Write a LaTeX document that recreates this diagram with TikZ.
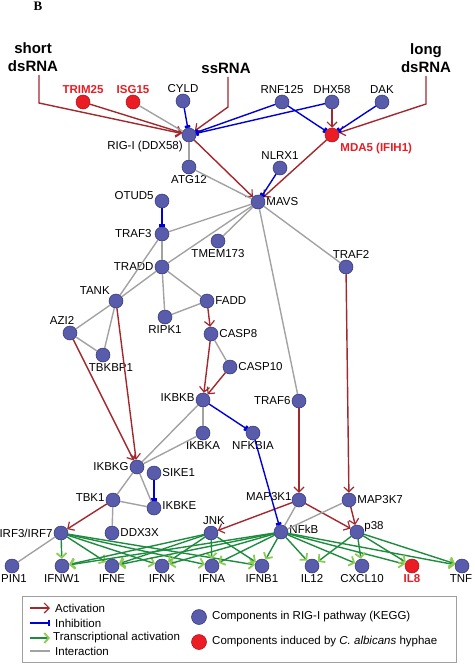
\documentclass[tikz,border=0pt]{standalone}
\usepackage{fontspec}
\setmainfont{Liberation Sans}
\newfontfamily\serifbf{Liberation Serif}
\usetikzlibrary{arrows.meta,positioning}

\definecolor{pblue}{RGB}{88,92,170}
\definecolor{pline}{RGB}{50,53,120}
\definecolor{pred}{RGB}{236,28,36}
\definecolor{rline}{RGB}{160,20,25}
\definecolor{actred}{RGB}{163,40,46}
\definecolor{inhblue}{RGB}{0,0,215}
\definecolor{trgreen}{RGB}{30,140,62}
\definecolor{trhead}{RGB}{140,205,80}
\definecolor{intgray}{RGB}{162,162,162}
\definecolor{txtred}{RGB}{228,30,36}

\tikzset{
	prot/.style={circle,draw=pline,fill=pblue,line width=0.5pt,minimum size=14pt,inner sep=0pt},
	hit/.style={prot,draw=rline,fill=pred},
	every label/.style={font=\fontsize{11.5}{13}\selectfont,inner sep=1pt},
	redlbl/.style={text=txtred,font=\fontsize{11.5}{13}\selectfont\bfseries},
	src/.style={align=center,font=\fontsize{15}{18}\selectfont\bfseries},
	act/.style={draw=actred,line width=1.4pt,-{Straight Barb[length=5pt,width=10pt,line width=1.2pt]}},
	inh/.style={draw=inhblue,line width=1.4pt,-{Rectangle[length=2.5pt,width=5.5pt]}},
	trn/.style={draw=trgreen,line width=1.4pt,-{Straight Barb[color=trhead,length=4.5pt,width=10pt,line width=1.8pt]}},
	intr/.style={draw=intgray,line width=1.4pt},
	lgd/.style={anchor=west,font=\fontsize{11.5}{13}\selectfont,inner sep=0pt}
}

\begin{document}
\begin{tikzpicture}[x=1pt,y=-1pt]
	\useasboundingbox (0,0) rectangle (474,664);
	\node (B) at (38,6) {\serifbf\bfseries\fontsize{13}{15}\selectfont B};
	% RNA sources
	\node[src] (sds) at (33,57) {short\\dsRNA};
	\node[src] (ss) at (226,68) {ssRNA};
	\node[src] (lds) at (426,58) {long\\dsRNA};
	\coordinate (sdk) at (39,103);
	\coordinate (ssk) at (228,107);
	\coordinate (ldk) at (426,104);
	% proteins
	\node[hit,label={[redlbl]above:TRIM25}] (trim) at (83,102) {};
	\node[hit,label={[redlbl]above:ISG15}] (isg) at (133,102) {};
	\node[prot,label=above:CYLD] (cyld) at (183,101) {};
	\node[prot,label=above:RNF125] (rnf) at (282,102) {};
	\node[prot,label=above:DHX58] (dhx) at (332,102) {};
	\node[prot,label=above:DAK] (dak) at (382,102) {};
	\node[prot,label={[anchor=north east]225:RIG-I (DDX58)}] (rig) at (189,135) {};
	\node[hit,label={[redlbl,anchor=north west,label distance=3pt]-45:MDA5 (IFIH1)}] (mda) at (332,135) {};
	\node[prot,label=below:ATG12] (atg) at (189,167) {};
	\node[prot,label=above:NLRX1] (nlrx) at (280,168) {};
	\node[prot,label=right:MAVS] (mavs) at (258,202) {};
	\node[prot,label={[yshift=5pt]left:OTUD5}] (otud) at (162,201) {};
	\node[prot,label={[label distance=2pt]left:TRAF3}] (traf3) at (162,234) {};
	\node[prot,label=below:TMEM173] (tmem) at (218,241) {};
	\node[prot,label={[xshift=5pt]above:TRAF2}] (traf2) at (346,267) {};
	\node[prot,label=left:TRADD] (tradd) at (162,267) {};
	\node[prot,label=above left:TANK] (tank) at (116,301) {};
	\node[prot,label=right:FADD] (fadd) at (207,301) {};
	\node[prot,label=below:RIPK1] (ripk) at (165,317) {};
	\node[prot,label={[xshift=-8pt]above:AZI2}] (azi) at (70,333) {};
	\node[prot,label=right:CASP8] (casp8) at (211,334) {};
	\node[prot,label={[xshift=8pt]below:TBKBP1}] (tbkbp) at (103,355) {};
	\node[prot,label=right:CASP10] (casp10) at (230,367) {};
	\node[prot,label={[yshift=2pt]left:IKBKB}] (ikbkb) at (203,400) {};
	\node[prot,label=left:TRAF6] (traf6) at (299,401) {};
	\node[prot,label=below:IKBKA] (ikbka) at (203,433) {};
	\node[prot,label=below:NFKBIA] (nfkbia) at (253,433) {};
	\node[prot,label=left:IKBKG] (ikbkg) at (137,467) {};
	\node[prot,label=right:SIKE1] (sike) at (154,473) {};
	\node[prot,label={[yshift=2pt]left:TBK1}] (tbk) at (113,500) {};
	\node[prot,label={[yshift=2pt]right:IKBKE}] (ikbke) at (154,508) {};
	\node[prot,label={[yshift=3pt,label distance=-1pt]left:MAP3K1}] (mk1) at (299,500) {};
	\node[prot,label=right:MAP3K7] (mk7) at (349,500) {};
	\node[prot,label=left:IRF3/IRF7] (irf) at (61,533) {};
	\node[prot,label=right:DDX3X] (ddx) at (112,533) {};
	\node[prot,label={[xshift=3pt]above:JNK}] (jnk) at (211,533) {};
	\node[prot,label={[yshift=3pt]right:NFkB}] (nfkb) at (281,532) {};
	\node[prot,label={[yshift=5pt,label distance=-1pt]right:p38}] (p38) at (357,532) {};
	% induced genes
	\node[prot,label={[xshift=2pt]below:PIN1}] (pin) at (12,566) {};
	\node[prot,label=below:IFNW1] (ifnw) [node distance=50pt, right of=pin] {};
	\node[prot,label=below:IFNE] (ifne) [node distance=50pt, right of=ifnw] {};
	\node[prot,label=below:IFNK] (ifnk) [node distance=50pt, right of=ifne] {};
	\node[prot,label=below:IFNA] (ifna) [node distance=50pt, right of=ifnk] {};
	\node[prot,label=below:IFNB1] (ifnb) [node distance=50pt, right of=ifna] {};
	\node[prot,label=below:IL12] (il12) [node distance=50pt, right of=ifnb] {};
	\node[prot,label=below:CXCL10] (cxcl) [node distance=50pt, right of=il12] {};
	\node[hit,label={[redlbl]below:IL8}] (il8) [node distance=50pt, right of=cxcl] {};
	\node[prot,label={[xshift=-1pt]below:TNF}] (tnf) [node distance=50pt, right of=il8] {};
	% activation
	\draw[act] (sds.south -| sdk) -- (sdk) -- (rig);
	\draw[act] (ss.south -| ssk) -- (ssk) -- (rig);
	\draw[act] (lds.south -| ldk) -- (ldk) -- (mda);
	\draw[act] (trim) -- (rig);
	\draw[act] (dhx) -- (mda);
	\draw[act] (rig) -- (mavs);
	\draw[act] (mda) -- (mavs);
	\draw[act] (fadd) -- (casp8);
	\draw[act] (casp8) -- (ikbkb);
	\draw[act] (casp10) -- (ikbkb);
	\draw[act] (tank) -- (ikbkg);
	\draw[act] (azi) -- (ikbkg);
	\draw[act] (tbk) -- (irf);
	\draw[act] (traf6) -- (mk1);
	\draw[act] (traf2) -- (mk7);
	\draw[act] (mk1) -- (jnk);
	\draw[act] (mk1) -- (p38);
	\draw[act] (mk7) -- (p38);
	% inhibition
	\draw[inh] (cyld) -- (rig);
	\draw[inh] (rnf) -- (rig);
	\draw[inh] (dhx) -- (rig);
	\draw[inh] (rnf) -- (mda);
	\draw[inh] (dak) -- (mda);
	\draw[inh] (nlrx) -- (mavs);
	\draw[inh] (otud) -- (traf3);
	\draw[inh] (ikbkb) -- (nfkbia);
	\draw[inh] (nfkbia) -- (nfkb);
	\draw[inh] (sike) -- (ikbke);
	% interaction
	\draw[intr] (isg) -- (rig);
	\draw[intr] (rig) -- (atg);
	\draw[intr] (atg) -- (mavs);
	\draw[intr] (mavs) -- (traf3);
	\draw[intr] (mavs) -- (tmem);
	\draw[intr] (mavs) -- (tradd);
	\draw[intr] (mavs) -- (traf6);
	\draw[intr] (mavs) -- (traf2);
	\draw[intr] (traf3) -- (tradd);
	\draw[intr] (traf3) -- (tank);
	\draw[intr] (tradd) -- (tank);
	\draw[intr] (tradd) -- (ripk);
	\draw[intr] (tradd) -- (fadd);
	\draw[intr] (fadd) -- (ripk);
	\draw[intr] (casp8) -- (casp10);
	\draw[intr] (tank) -- (azi);
	\draw[intr] (tank) -- (tbkbp);
	\draw[intr] (azi) -- (tbkbp);
	\draw[intr] (ikbkb) -- (ikbka);
	\draw[intr] (ikbkb) -- (ikbkg);
	\draw[intr] (ikbka) -- (ikbkg);
	\draw[intr] (ikbkg) -- (tbk);
	\draw[intr] (ikbkg) -- (ikbke);
	\draw[intr] (tbk) -- (ikbke);
	\draw[intr] (tbk) -- (ddx);
	\draw[intr] (irf) -- (pin);
	\draw[intr] (mk1) -- (nfkb);
	\draw[intr] (mk7) -- (nfkb);
	% transcriptional activation
	\draw[trn] (irf) -- (ifnw);
	\draw[trn] (irf) -- (ifne);
	\draw[trn] (irf) -- (ifnk);
	\draw[trn] (irf) -- (ifna);
	\draw[trn] (irf) -- (ifnb);
	\draw[trn] (jnk) -- (ifnw);
	\draw[trn] (jnk) -- (ifne);
	\draw[trn] (jnk) -- (ifnk);
	\draw[trn] (jnk) -- (ifna);
	\draw[trn] (jnk) -- (ifnb);
	\draw[trn] (nfkb) -- (ifnw);
	\draw[trn] (nfkb) -- (ifne);
	\draw[trn] (nfkb) -- (ifnk);
	\draw[trn] (nfkb) -- (ifna);
	\draw[trn] (nfkb) -- (ifnb);
	\draw[trn] (nfkb) -- (il12);
	\draw[trn] (nfkb) -- (cxcl);
	\draw[trn] (nfkb) -- (il8);
	\draw[trn] (nfkb) -- (tnf);
	\draw[trn] (p38) -- (il12);
	\draw[trn] (p38) -- (cxcl);
	\draw[trn] (p38) -- (il8);
	\draw[trn] (p38) -- (tnf);
	% legend
	\draw[draw=gray!75,line width=0.6pt] (22,596) rectangle (456,662);
	\coordinate (la) at (30,608); \coordinate (lb) at (50,608);
	\coordinate (lc) at (30,623); \coordinate (ld) at (50,623);
	\coordinate (le) at (30,638); \coordinate (lf) at (50,638);
	\coordinate (lg) at (30,651); \coordinate (lh) at (50,651);
	\draw[act] (la) -- (lb);
	\draw[inh] (lc) -- (ld);
	\draw[trn] (le) -- (lf);
	\draw[intr] (lg) -- (lh);
	\node[lgd] (tact) at (55,608) {Activation};
	\node[lgd] (tinh) at (55,623) {Inhibition};
	\node[lgd] (ttrn) at (53,638) {Transcriptional activation};
	\node[lgd] (tint) at (55,651) {Interaction};
	\node[prot,minimum size=15pt] (kegg) at (199,617) {};
	\node[hit,minimum size=15pt] (cand) at (199,642) {};
	\node[lgd] (tkegg) at (212,617) {Components in RIG-I pathway (KEGG)};
	\node[lgd] (tcand) at (212,642) {Components induced by \textit{C. albicans} hyphae};
\end{tikzpicture}
\end{document}
